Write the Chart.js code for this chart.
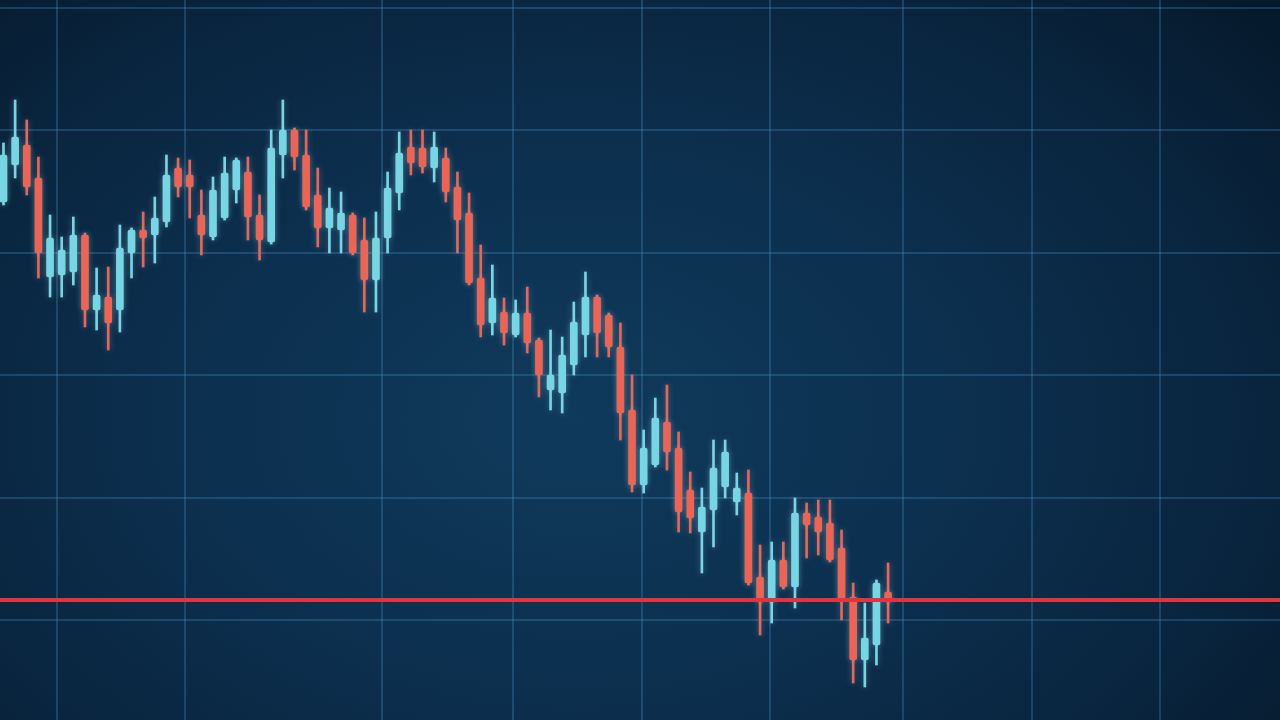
<!DOCTYPE html>
<html>
<head>
<meta charset="utf-8">
<title>Candles</title>
<script src="https://cdn.jsdelivr.net/npm/chart.js@4.4.1/dist/chart.umd.min.js"></script>
<style>
  html, body {
    margin: 0;
    padding: 0;
    width: 1280px;
    height: 720px;
    overflow: hidden;
    background: radial-gradient(ellipse 70% 85% at 45% 58%, #0f3a5c 0%, #0c2f4e 45%, #09243d 78%, #061a2d 100%);
  }
  #chart { display: block; }
</style>
</head>
<body>
<canvas id="chart" width="1280" height="720"></canvas>
<script>
// one entry per session, left to right
const opens = [
  518, 555, 575, 542, 443, 445, 448, 485, 410, 423,
  410, 467, 490, 485, 498, 552, 545, 505, 483, 502,
  530, 548, 505, 478, 565, 590, 565, 525, 492, 490,
  505, 480, 440, 482, 527, 573, 572, 552, 562, 533,
  507, 442, 397, 408, 385, 407, 380, 330, 327, 355,
  385, 423, 405, 373, 310, 235, 255, 298, 272, 230,
  188, 210, 233, 218, 227, 143, 118, 160, 133, 207,
  203, 197, 172, 123, 60, 75, 128
];
const closes = [
  565, 583, 533, 467, 482, 470, 485, 410, 425, 397,
  472, 490, 482, 502, 545, 533, 533, 485, 530, 547,
  560, 503, 480, 572, 590, 563, 513, 492, 512, 507,
  467, 440, 482, 532, 567, 557, 553, 573, 528, 500,
  437, 395, 422, 387, 407, 377, 345, 345, 365, 398,
  423, 387, 373, 307, 235, 272, 302, 268, 208, 202,
  213, 252, 268, 232, 137, 118, 160, 133, 207, 195,
  188, 160, 120, 60, 82, 137, 118
];
const highs = [
  577, 620, 600, 563, 505, 483, 503, 487, 452, 453,
  495, 492, 508, 523, 565, 562, 560, 530, 543, 563,
  562, 563, 525, 590, 620, 592, 590, 552, 532, 528,
  507, 502, 508, 548, 588, 590, 590, 588, 572, 548,
  527, 475, 455, 422, 420, 433, 382, 390, 383, 418,
  448, 425, 407, 397, 345, 290, 322, 335, 288, 248,
  232, 280, 280, 247, 250, 175, 178, 178, 222, 217,
  220, 220, 190, 137, 117, 140, 157
];
const lows = [
  515, 542, 525, 442, 423, 423, 435, 393, 390, 370,
  388, 442, 453, 457, 493, 523, 502, 465, 480, 500,
  517, 480, 460, 476, 542, 550, 510, 473, 467, 467,
  465, 408, 408, 467, 510, 545, 547, 538, 518, 467,
  435, 383, 385, 375, 383, 367, 323, 310, 307, 345,
  363, 363, 363, 280, 228, 227, 253, 250, 188, 187,
  147, 173, 222, 205, 135, 85, 97, 131, 112, 162,
  165, 158, 100, 37, 33, 55, 97
];
// the red support level
const supportLevel = 120;

// view window and background grid
const X_MIN = -0.30;
const X_MAX = 109.67;
const Y_MIN = 0;
const Y_MAX = 720;
const gridCols = [57, 185, 382, 513, 642, 770, 903, 1032, 1160];
const gridRows = [712, 590, 467, 345, 222, 100];

const UP = '#76d6e3';
const DOWN = '#ef6352';
const colors = opens.map((o, i) => (closes[i] >= o ? UP : DOWN));

const wicks = opens.map((_, i) => ({ x: i, y: [lows[i], highs[i]] }));
const bodies = opens.map((o, i) => ({ x: i, y: [o, closes[i]] }));

const gridStyle = {
  color: 'rgba(78, 150, 200, 0.28)',
  lineWidth: 2,
  drawTicks: false,
  offset: false
};

// soft glow round the candles, like a lit screen
const glow = {
  id: 'glow',
  beforeDatasetDraw(chart, args) {
    if (args.meta.type !== 'bar') return;
    const ctx = chart.ctx;
    ctx.save();
    ctx.shadowBlur = 6;
    ctx.shadowColor = 'rgba(170, 220, 235, 0.35)';
  },
  afterDatasetDraw(chart, args) {
    if (args.meta.type !== 'bar') return;
    chart.ctx.restore();
  }
};

new Chart(document.getElementById('chart').getContext('2d'), {
  type: 'bar',
  data: {
    datasets: [
      {
        type: 'line',
        data: [{ x: X_MIN, y: supportLevel }, { x: X_MAX, y: supportLevel }],
        borderColor: '#e3343c',
        borderWidth: 4,
        pointRadius: 0,
        order: 0
      },
      {
        data: bodies,
        backgroundColor: colors,
        barThickness: 7,
        borderRadius: 2,
        borderSkipped: false,
        grouped: false,
        order: 1
      },
      {
        data: wicks,
        backgroundColor: colors,
        barThickness: 2,
        borderSkipped: false,
        grouped: false,
        order: 2
      }
    ]
  },
  options: {
    responsive: false,
    animation: false,
    devicePixelRatio: 1,
    layout: { padding: 0 },
    plugins: {
      legend: { display: false },
      tooltip: { enabled: false }
    },
    scales: {
      x: { type: 'linear', min: X_MIN, max: X_MAX, offset: false, display: false },
      y: { type: 'linear', min: Y_MIN, max: Y_MAX, display: false },
      gx: {
        type: 'linear',
        axis: 'x',
        position: 'bottom',
        min: 0,
        max: 1280,
        offset: false,
        grid: gridStyle,
        border: { display: false },
        ticks: { display: false },
        afterBuildTicks: (scale) => {
          scale.ticks = gridCols.map((v) => ({ value: v }));
        }
      },
      gy: {
        type: 'linear',
        axis: 'y',
        position: 'left',
        min: Y_MIN,
        max: Y_MAX,
        grid: gridStyle,
        border: { display: false },
        ticks: { display: false },
        afterBuildTicks: (scale) => {
          scale.ticks = gridRows.map((v) => ({ value: v }));
        }
      }
    }
  },
  plugins: [glow]
});
</script>
</body>
</html>
